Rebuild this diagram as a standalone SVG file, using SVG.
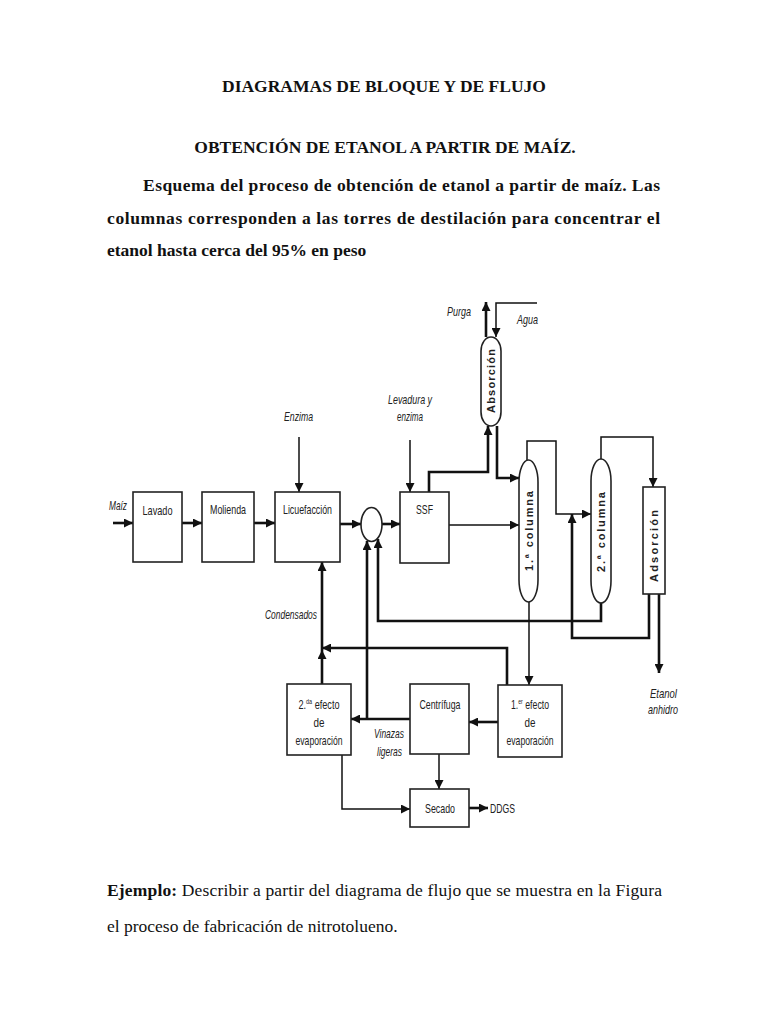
<svg xmlns="http://www.w3.org/2000/svg" width="768" height="1024" viewBox="0 0 768 1024">
<style>
.h{font-family:"Liberation Serif","Times New Roman",serif;font-size:17.5px;font-weight:bold;fill:#111}
.p{font-family:"Liberation Serif","Times New Roman",serif;font-size:17.5px;fill:#111}
.b{fill:#fff;stroke:#222;stroke-width:1.6}
.c{fill:none;stroke:#111;stroke-width:1.5}
.t{fill:none;stroke:#111;stroke-width:2.6}
.l{font-family:"Liberation Sans",Arial,sans-serif;font-size:13.5px;fill:#222;text-anchor:middle}
.s{font-family:"Liberation Sans",Arial,sans-serif;font-size:13.5px;fill:#222}
.i{font-family:"Liberation Sans",Arial,sans-serif;font-size:13px;font-style:italic;fill:#222}
.v{font-family:"Liberation Sans",Arial,sans-serif;font-size:11px;font-weight:bold;fill:#222;text-anchor:middle}
</style>
<defs>
<marker id="a" markerUnits="userSpaceOnUse" markerWidth="10" markerHeight="9" refX="9" refY="4.5" orient="auto"><path d="M0,0 L9,4.5 L0,9 Z" fill="#111"/></marker>
</defs>

<g id="header">
<text class="h" x="384" y="92" text-anchor="middle">DIAGRAMAS DE BLOQUE Y DE FLUJO</text>
<text class="h" x="385" y="153" text-anchor="middle">OBTENCIÓN DE ETANOL A PARTIR DE MAÍZ.</text>
<text class="h" x="143" y="191" textLength="517" lengthAdjust="spacing">Esquema del proceso de obtención de etanol a partir de maíz. Las</text>
<text class="h" x="107" y="224" textLength="553" lengthAdjust="spacing">columnas corresponden a las torres de destilación para concentrar el</text>
<text class="h" x="107" y="256">etanol hasta cerca del 95% en peso</text>
</g>

<g id="footer">
<text class="p" x="107" y="896" textLength="555" lengthAdjust="spacing"><tspan font-weight="bold">Ejemplo:</tspan> Describir a partir del diagrama de flujo que se muestra en la Figura</text>
<text class="p" x="107" y="932">el proceso de fabricación de nitrotolueno.</text>
</g>

<g id="connectors">
<path class="t" d="M113,523 H133" marker-end="url(#a)"/>
<path class="t" d="M182,523 H202" marker-end="url(#a)"/>
<path class="t" d="M254,523 H275" marker-end="url(#a)"/>
<path class="t" d="M340,524 H361" marker-end="url(#a)"/>
<path class="t" d="M382,524 H400" marker-end="url(#a)"/>
<path class="c" d="M299,437 V492" marker-end="url(#a)"/>
<path class="c" d="M410,440 V492" marker-end="url(#a)"/>
<path class="c" d="M449,525 H519" marker-end="url(#a)"/>
<path class="t" d="M429,492 V472 H488 V426" marker-end="url(#a)"/>
<path class="t" d="M486,337 V302" marker-end="url(#a)"/>
<path class="c" d="M537,303 H496 V337" marker-end="url(#a)"/>
<path class="t" d="M497,426 V478 H519" marker-end="url(#a)"/>
<path class="c" d="M527,460 V441 H556 V514 H591" marker-end="url(#a)"/>
<path class="c" d="M601,459 V437 H653 V487" marker-end="url(#a)"/>
<path class="t" d="M649,594 V638 H572 V514" marker-end="url(#a)"/>
<path class="t" d="M659,594 V673" marker-end="url(#a)"/>
<path class="t" d="M601,603 V621 H378 V539" marker-end="url(#a)"/>
<path class="c" d="M529,602 V685" marker-end="url(#a)"/>
<path class="t" d="M498,722 H469" marker-end="url(#a)"/>
<path class="t" d="M507,685 V648 H322" marker-end="url(#a)"/>
<path class="t" d="M322,684 V650" marker-end="url(#a)"/>
<path class="t" d="M322,650 V562" marker-end="url(#a)"/>
<path class="t" d="M410,719 H351" marker-end="url(#a)"/>
<path class="t" d="M367,719 V541" marker-end="url(#a)"/>
<path class="c" d="M439,754 V789" marker-end="url(#a)"/>
<path class="c" d="M342,755 V809 H410" marker-end="url(#a)"/>
<path class="t" d="M469,808 H488" marker-end="url(#a)"/>
</g>

<g id="lavado"><rect class="b" x="133" y="492" width="49" height="70"/><text class="l" x="157.5" y="515" textLength="30" lengthAdjust="spacingAndGlyphs">Lavado</text></g>
<g id="molienda"><rect class="b" x="202" y="492" width="52" height="70"/><text class="l" x="228" y="514" textLength="36" lengthAdjust="spacingAndGlyphs">Molienda</text></g>
<g id="licuefaccion"><rect class="b" x="275" y="492" width="65" height="70"/><text class="l" x="307.5" y="514" textLength="49" lengthAdjust="spacingAndGlyphs">Licuefacción</text></g>
<g id="mezclador"><ellipse class="b" cx="371.5" cy="524.5" rx="10.5" ry="17"/></g>
<g id="ssf"><rect class="b" x="400" y="492" width="49" height="71"/><text class="l" x="424.5" y="514" textLength="17" lengthAdjust="spacingAndGlyphs">SSF</text></g>
<g id="absorcion"><rect class="b" x="481" y="337" width="20" height="89" rx="10" ry="14"/><text class="v" transform="translate(495,381) rotate(-90)" textLength="64" lengthAdjust="spacing">Absorción</text></g>
<g id="columna1"><rect class="b" x="519" y="460" width="19" height="142" rx="9.5" ry="22"/><text class="v" transform="translate(533,531) rotate(-90)" textLength="80" lengthAdjust="spacing">1.ª columna</text></g>
<g id="columna2"><rect class="b" x="591" y="459" width="20" height="144" rx="10" ry="22"/><text class="v" transform="translate(605,532) rotate(-90)" textLength="80" lengthAdjust="spacing">2.ª columna</text></g>
<g id="adsorcion"><rect class="b" x="643" y="487" width="22" height="107"/><text class="v" transform="translate(658,546) rotate(-90)" textLength="72" lengthAdjust="spacing">Adsorción</text></g>
<g id="efecto2"><rect class="b" x="287" y="684" width="64" height="71"/>
<text class="l" x="319" y="709" textLength="41" lengthAdjust="spacingAndGlyphs">2.<tspan font-size="8" baseline-shift="5">da</tspan> efecto</text>
<text class="l" x="319" y="727" textLength="11" lengthAdjust="spacingAndGlyphs">de</text><text class="l" x="319" y="745" textLength="47" lengthAdjust="spacingAndGlyphs">evaporación</text></g>
<g id="centrifuga"><rect class="b" x="410" y="684" width="59" height="70"/><text class="l" x="440" y="709" textLength="41" lengthAdjust="spacingAndGlyphs">Centrífuga</text></g>
<g id="efecto1"><rect class="b" x="498" y="685" width="64" height="72"/>
<text class="l" x="530" y="709" textLength="38" lengthAdjust="spacingAndGlyphs">1.<tspan font-size="8" baseline-shift="5">er</tspan> efecto</text>
<text class="l" x="530" y="727" textLength="11" lengthAdjust="spacingAndGlyphs">de</text><text class="l" x="530" y="745" textLength="47" lengthAdjust="spacingAndGlyphs">evaporación</text></g>
<g id="secado"><rect class="b" x="410" y="789" width="59" height="38"/><text class="l" x="440" y="813" textLength="30" lengthAdjust="spacingAndGlyphs">Secado</text></g>

<g id="labels">
<text class="i" x="109" y="510" textLength="18" lengthAdjust="spacingAndGlyphs">Maíz</text>
<text class="i" x="284" y="421" textLength="29" lengthAdjust="spacingAndGlyphs">Enzima</text>
<text class="i" x="388" y="404" textLength="44" lengthAdjust="spacingAndGlyphs">Levadura y</text>
<text class="i" x="397" y="421" textLength="26" lengthAdjust="spacingAndGlyphs">enzima</text>
<text class="i" x="447" y="316" textLength="24" lengthAdjust="spacingAndGlyphs">Purga</text>
<text class="i" x="517" y="324" textLength="21" lengthAdjust="spacingAndGlyphs">Agua</text>
<text class="i" x="265" y="619" textLength="52" lengthAdjust="spacingAndGlyphs">Condensados</text>
<text class="i" x="374" y="738" textLength="30" lengthAdjust="spacingAndGlyphs">Vinazas</text>
<text class="i" x="377" y="756" textLength="25" lengthAdjust="spacingAndGlyphs">ligeras</text>
<text class="i" x="650" y="698" textLength="27" lengthAdjust="spacingAndGlyphs">Etanol</text>
<text class="i" x="648" y="714" textLength="30" lengthAdjust="spacingAndGlyphs">anhidro</text>
<text class="s" x="490" y="813" textLength="25" lengthAdjust="spacingAndGlyphs">DDGS</text>
</g>
</svg>
